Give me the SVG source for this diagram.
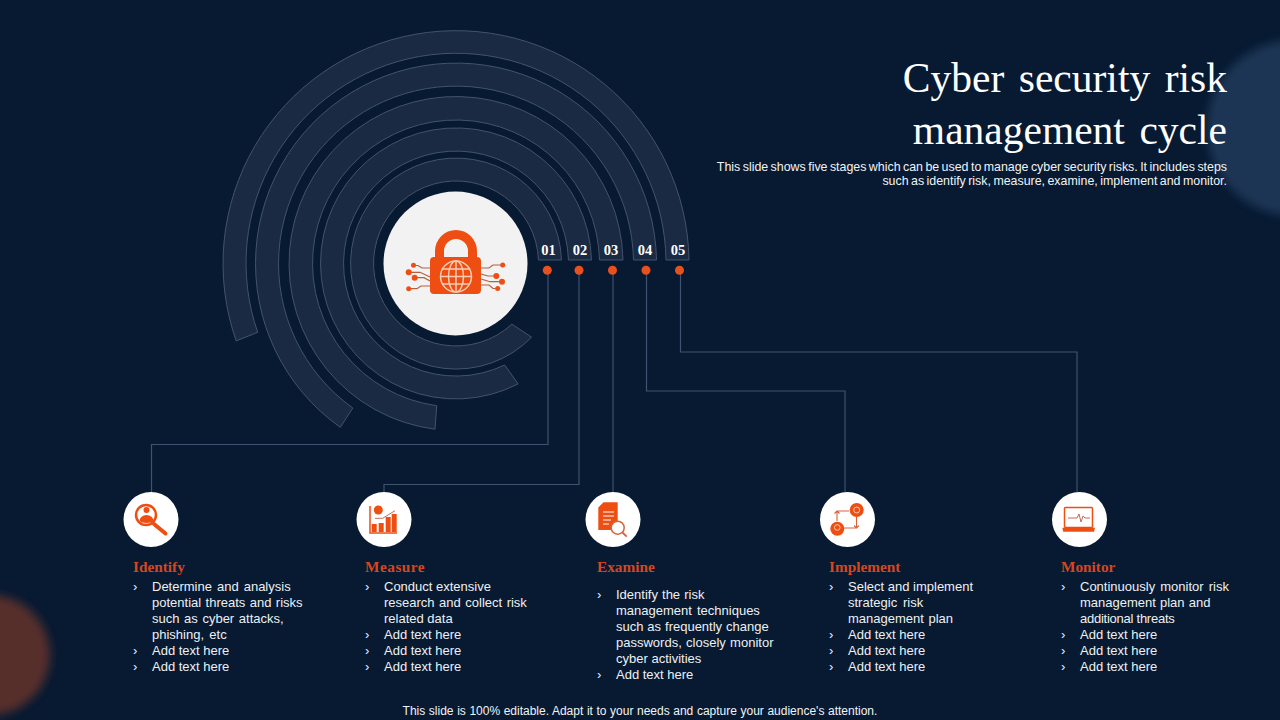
<svg xmlns="http://www.w3.org/2000/svg" width="1280" height="720" viewBox="0 0 1280 720">
<style>
.ring{fill:#1b2a43;stroke:#43536d;stroke-width:1}
.conn{fill:none;stroke:#3f5270;stroke-width:1.2}
.dot{fill:#e8501e}
.num{font:bold 14.5px "Liberation Serif",serif;fill:#fff;text-anchor:middle}
.disc{fill:#fff}
.or{fill:#ee4e12}
.ol{fill:none;stroke:#ee4e12;stroke-width:1.5}
.head{font:bold 15.300px "Liberation Serif",serif;fill:#d9451d}
.body{font:13px "Liberation Sans",Arial,sans-serif;fill:#eef0f3}
.title{font:41.500px "Liberation Serif",serif;fill:#fff;text-anchor:end;word-spacing:4.200px}
.sub{font:12.400px "Liberation Sans",Arial,sans-serif;fill:#f2f3f5;text-anchor:end;word-spacing:-1px}
.foot{font:12px "Liberation Sans",Arial,sans-serif;fill:#f2f3f5;text-anchor:middle;word-spacing:.25px}
</style>
<defs>
<filter id="blur" x="-20%" y="-20%" width="140%" height="140%"><feGaussianBlur stdDeviation="5"/></filter>
</defs>
<rect width="1280" height="720" fill="#071a32"/>
<circle cx="1295" cy="128" r="88" fill="#1a3655" filter="url(#blur)"/>
<circle cx="-10" cy="655" r="60" fill="#562d29" filter="url(#blur)"/>

<g id="rings">
<path class="ring" d="M689 260A233 233 0 1 0 236.200 340.900L257.700 332.300A210 210 0 1 1 666 260Z"/>
<path class="ring" d="M656.500 260A200.500 200.500 0 1 0 340.300 427.300L352.800 408A177.500 177.500 0 1 1 633.500 260Z"/>
<path class="ring" d="M623 260A167 167 0 1 0 435 429.200L436.700 405.700A143.500 143.500 0 1 1 599.500 260Z"/>
<path class="ring" d="M591.500 260A135.500 135.500 0 1 0 518.100 383.900L504.700 365A112.500 112.500 0 1 1 568.500 260Z"/>
<path class="ring" d="M561.500 260A105.500 105.500 0 1 0 531.600 337.200L511.900 324.200A82.500 82.500 0 1 1 538.500 260Z"/>
</g>

<g id="connectors">
<path class="conn" d="M548 270V444.500H151.500V492"/>
<path class="conn" d="M579 270V484.500H384V492"/>
<path class="conn" d="M613 270V492"/>
<path class="conn" d="M646.500 270V391H845V492"/>
<path class="conn" d="M680.500 270V352H1077V492"/>
</g>

<g id="hub">
<circle cx="455.500" cy="263.500" r="72" fill="#f2f2f2"/>
<path class="or" fill-rule="evenodd" d="M435 257V251a21 21 0 0 1 42 0V257h-1h1a4 4 0 0 1 4 4v29a4 4 0 0 1-4 4H434a4 4 0 0 1-4-4V261a4 4 0 0 1 4-4ZM444 257h24v-6a12 12 0 0 0-24 0Z"/>
<g fill="none" stroke="#f9cdb6" stroke-width="1.500">
<circle cx="456" cy="276.500" r="15.500"/>
<ellipse cx="456" cy="276.500" rx="7.500" ry="15.500"/>
<path d="M456 261V292M440.500 276.500H471.500M442.500 269H469.500M442.500 284H469.500"/>
</g>
<g fill="none" stroke="#b5603f" stroke-width="1.200">
<path d="M430 268H422L418 265.500H413.500M430 277L420 272.300H408.700M430 281L424 277.700H414.700M430 286H421L417 288.700H408.700"/>
<path d="M481 268H489L493 265H502.700M481 274L488 276H496.300M481 279L490 281.700H502M481 285H489L493 288.500H497.700"/>
</g>
<g class="or">
<circle cx="413.500" cy="265.300" r="2.500"/><circle cx="408.700" cy="272.300" r="3"/><circle cx="414.700" cy="277.700" r="3"/><circle cx="408.700" cy="288.700" r="2.500"/>
<circle cx="502.700" cy="265" r="2.500"/><circle cx="496.300" cy="276" r="3"/><circle cx="502" cy="281.700" r="3"/><circle cx="497.700" cy="288.500" r="2.500"/>
</g>
</g>

<g id="markers">
<text class="num" x="548.500" y="255">01</text>
<text class="num" x="580" y="255">02</text>
<text class="num" x="611" y="255">03</text>
<text class="num" x="645" y="255">04</text>
<text class="num" x="678" y="255">05</text>
<circle class="dot" cx="547.300" cy="270.300" r="4.500"/>
<circle class="dot" cx="579" cy="270.300" r="4.500"/>
<circle class="dot" cx="612.500" cy="270.300" r="4.500"/>
<circle class="dot" cx="646" cy="270.300" r="4.500"/>
<circle class="dot" cx="679.500" cy="270.300" r="4.500"/>
</g>

<g id="title-block">
<text class="title" x="1227" y="92">Cyber security risk</text>
<text class="title" x="1227" y="144">management cycle</text>
<text class="sub" x="1227" y="171">This slide shows five stages which can be used to manage cyber security risks. It includes steps</text>
<text class="sub" x="1227" y="185">such as identify risk, measure, examine, implement and monitor.</text>
</g>

<g id="identify">
<circle class="disc" cx="151" cy="519.500" r="27.500"/>
<circle cx="146" cy="515" r="10" fill="none" stroke="#ee4e12" stroke-width="2.500"/>
<circle class="or" cx="146.500" cy="510" r="3"/>
<path class="or" d="M139.500 521a7 6 0 0 1 14 0a8 4 0 0 1-14 0Z"/>
<path d="M154 524L165.500 533.500" stroke="#ee4e12" stroke-width="4" stroke-linecap="round"/>
<text class="head" x="133" y="572">Identify</text>
<text class="body" x="133" y="591">›</text><text class="body" x="152" y="591" word-spacing="1.400">Determine and analysis</text>
<text class="body" x="152" y="607" word-spacing=".8">potential threats and risks</text>
<text class="body" x="152" y="623" word-spacing="1">such as cyber attacks,</text>
<text class="body" x="152" y="639" word-spacing="1.700">phishing, etc</text>
<text class="body" x="133" y="655">›</text><text class="body" x="152" y="655">Add text here</text>
<text class="body" x="133" y="671">›</text><text class="body" x="152" y="671">Add text here</text>
</g>

<g id="measure">
<circle class="disc" cx="384" cy="519.500" r="27.500"/>
<path class="ol" d="M370 506V533H397"/>
<rect class="or" x="371.700" y="524" width="5" height="8"/><rect class="or" x="378.700" y="523" width="5" height="9"/><rect class="or" x="385.700" y="517" width="5" height="15"/><rect class="or" x="391.700" y="514" width="5" height="18"/>
<circle class="or" cx="378.300" cy="510" r="4.500"/>
<path d="M375 518.300H382.700L395 510.700" fill="none" stroke="#c8694a" stroke-width="1"/>
<text class="head" x="365" y="572" letter-spacing=".5">Measure</text>
<text class="body" x="365" y="591">›</text><text class="body" x="384" y="591">Conduct extensive</text>
<text class="body" x="384" y="607" word-spacing=".9">research and collect risk</text>
<text class="body" x="384" y="623">related data</text>
<text class="body" x="365" y="639">›</text><text class="body" x="384" y="639">Add text here</text>
<text class="body" x="365" y="655">›</text><text class="body" x="384" y="655">Add text here</text>
<text class="body" x="365" y="671">›</text><text class="body" x="384" y="671">Add text here</text>
</g>

<g id="examine">
<circle class="disc" cx="613" cy="519.500" r="27.500"/>
<path class="or" d="M603.500 502.300H617.700V530H598.300V507.500Z"/>
<path d="M603 512H614M603 516H614M603 520H611M603 524H609" stroke="#fff" stroke-width="1"/>
<circle cx="617.700" cy="527.700" r="6.500" fill="#fff" stroke="#d9623a" stroke-width="1.500"/>
<path d="M622.500 532.500L626.700 536.700" stroke="#d9623a" stroke-width="1.800"/>
<text class="head" x="597" y="572">Examine</text>
<text class="body" x="597" y="599">›</text><text class="body" x="616" y="599" word-spacing=".5">Identify the risk</text>
<text class="body" x="616" y="615" word-spacing="1.500">management techniques</text>
<text class="body" x="616" y="631" word-spacing=".3">such as frequently change</text>
<text class="body" x="616" y="647" word-spacing=".7">passwords, closely monitor</text>
<text class="body" x="616" y="663">cyber activities</text>
<text class="body" x="597" y="679">›</text><text class="body" x="616" y="679">Add text here</text>
</g>

<g id="implement">
<circle class="disc" cx="847.500" cy="519.500" r="27.500"/>
<circle class="or" cx="856.700" cy="510" r="7"/>
<circle cx="856.700" cy="510" r="3" fill="none" stroke="#f9cdb6" stroke-width="1"/>
<circle class="or" cx="837.300" cy="528.700" r="7"/>
<circle cx="837.300" cy="527.500" r="2.800" fill="none" stroke="#f9cdb6" stroke-width="1"/>
<path d="M837 521V511H849M834.500 513.500L837 511L839.500 513.500M856.500 517V528H844M854 525.500L856.500 528L859 525.500" fill="none" stroke="#d9623a" stroke-width="1.100"/>
<text class="head" x="829" y="572">Implement</text>
<text class="body" x="829" y="591">›</text><text class="body" x="848" y="591">Select and implement</text>
<text class="body" x="848" y="607" word-spacing="2.200">strategic risk</text>
<text class="body" x="848" y="623" word-spacing="1">management plan</text>
<text class="body" x="829" y="639">›</text><text class="body" x="848" y="639">Add text here</text>
<text class="body" x="829" y="655">›</text><text class="body" x="848" y="655">Add text here</text>
<text class="body" x="829" y="671">›</text><text class="body" x="848" y="671">Add text here</text>
</g>

<g id="monitor">
<circle class="disc" cx="1079.500" cy="519.500" r="27.500"/>
<rect class="ol" x="1064.500" y="507.500" width="28" height="20" rx="1"/>
<path class="or" d="M1062.300 527.700H1095L1094 531.700H1063.300Z"/>
<path d="M1068 518H1077L1079 514L1081 522L1083 516L1085 518H1090" fill="none" stroke="#c8694a" stroke-width="1"/>
<text class="head" x="1061" y="572">Monitor</text>
<text class="body" x="1061" y="591">›</text><text class="body" x="1080" y="591" word-spacing="1.500">Continuously monitor risk</text>
<text class="body" x="1080" y="607" word-spacing=".5">management plan and</text>
<text class="body" x="1080" y="623" letter-spacing="-.25">additional threats</text>
<text class="body" x="1061" y="639">›</text><text class="body" x="1080" y="639">Add text here</text>
<text class="body" x="1061" y="655">›</text><text class="body" x="1080" y="655">Add text here</text>
<text class="body" x="1061" y="671">›</text><text class="body" x="1080" y="671">Add text here</text>
</g>

<text class="foot" x="640" y="715">This slide is 100% editable. Adapt it to your needs and capture your audience's attention.</text>
</svg>
